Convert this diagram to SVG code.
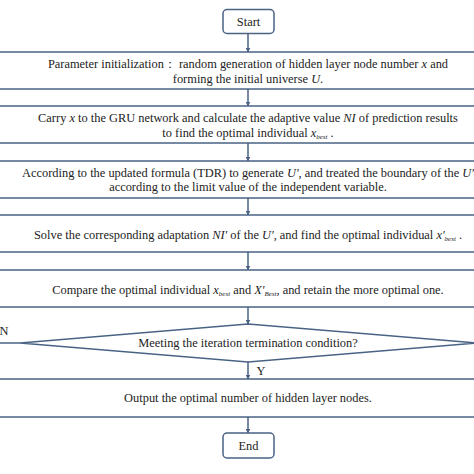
<svg xmlns="http://www.w3.org/2000/svg" width="474" height="474" viewBox="0 0 474 474">
<style>
.b{fill:#fff;stroke:#4a6385;stroke-width:1.5}
.l{stroke:#4a6385;stroke-width:1.5;fill:none}
text{font-family:"Liberation Serif",serif;font-size:12.4px;fill:#222;text-anchor:middle}
.i{font-style:italic}
.s{font-size:7px;font-style:italic}
</style>
<defs>
<marker id="a" viewBox="0 0 10 10" refX="9" refY="5" markerWidth="5" markerHeight="5" orient="auto" markerUnits="userSpaceOnUse"><path d="M0,0 L10,5 L0,10 z" fill="#4a6385"/></marker>
</defs>
<rect width="474" height="474" fill="#fff"/>
<g id="connectors">
<line class="l" x1="248" y1="33" x2="248" y2="52" marker-end="url(#a)"/>
<line class="l" x1="248" y1="89" x2="248" y2="106" marker-end="url(#a)"/>
<line class="l" x1="248" y1="143" x2="248" y2="161" marker-end="url(#a)"/>
<line class="l" x1="248" y1="198" x2="248" y2="215" marker-end="url(#a)"/>
<line class="l" x1="248" y1="252" x2="248" y2="270" marker-end="url(#a)"/>
<line class="l" x1="248" y1="307" x2="248" y2="324" marker-end="url(#a)"/>
<line class="l" x1="248" y1="362" x2="248" y2="379" marker-end="url(#a)"/>
<line class="l" x1="248" y1="417" x2="248" y2="433" marker-end="url(#a)"/>
<line class="l" x1="0" y1="343" x2="20" y2="343"/>
<text x="4" y="335">N</text>
<text x="261" y="375">Y</text>
</g>
<g id="start">
<rect class="b" x="223" y="9.5" width="51" height="24" rx="4"/>
<text x="248.5" y="25.5">Start</text>
</g>
<g id="init">
<rect class="b" x="-2" y="52" width="478" height="37"/>
<text x="248" y="68">Parameter initialization：  random generation of hidden layer node number <tspan class="i">x</tspan> and</text>
<text x="248" y="83">forming the initial universe <tspan class="i">U</tspan>.</text>
</g>
<g id="gru">
<rect class="b" x="-2" y="106" width="478" height="37"/>
<text x="248" y="122">Carry <tspan class="i">x</tspan> to the GRU network and calculate the adaptive value <tspan class="i">NI</tspan> of prediction results</text>
<text x="248" y="137">to find the optimal individual <tspan class="i">x</tspan><tspan class="s" dy="2">best</tspan><tspan dy="-2"> .</tspan></text>
</g>
<g id="update">
<rect class="b" x="-2" y="161" width="478" height="37"/>
<text x="248" y="177">According to the updated formula (TDR) to generate <tspan class="i">U'</tspan>,  and treated the boundary of the <tspan class="i">U'</tspan></text>
<text x="248" y="191">according to the limit value of the independent variable.</text>
</g>
<g id="solve">
<rect class="b" x="-2" y="215" width="478" height="37"/>
<text x="248" y="239">Solve the corresponding adaptation <tspan class="i">NI'</tspan> of the <tspan class="i">U'</tspan>, and find the optimal individual <tspan class="i">x'</tspan><tspan class="s" dy="2">best</tspan><tspan dy="-2"> .</tspan></text>
</g>
<g id="compare">
<rect class="b" x="-2" y="270" width="478" height="37"/>
<text x="248" y="294">Compare the optimal individual <tspan class="i">x</tspan><tspan class="s" dy="2">best</tspan><tspan dy="-2"> and </tspan><tspan class="i">X'</tspan><tspan class="s" dy="2">Best</tspan><tspan dy="-2">, and retain the more optimal one.</tspan></text>
</g>
<g id="decision">
<polygon class="b" points="248,324 476,343 248,362 20,343"/>
<text x="248" y="347">Meeting the iteration termination condition?</text>
</g>
<g id="output">
<rect class="b" x="-2" y="379" width="478" height="38"/>
<text x="248" y="402">Output the optimal number of hidden layer nodes.</text>
</g>
<g id="end">
<rect class="b" x="223" y="433" width="51" height="25" rx="4"/>
<text x="248.5" y="449.5">End</text>
</g>
</svg>
